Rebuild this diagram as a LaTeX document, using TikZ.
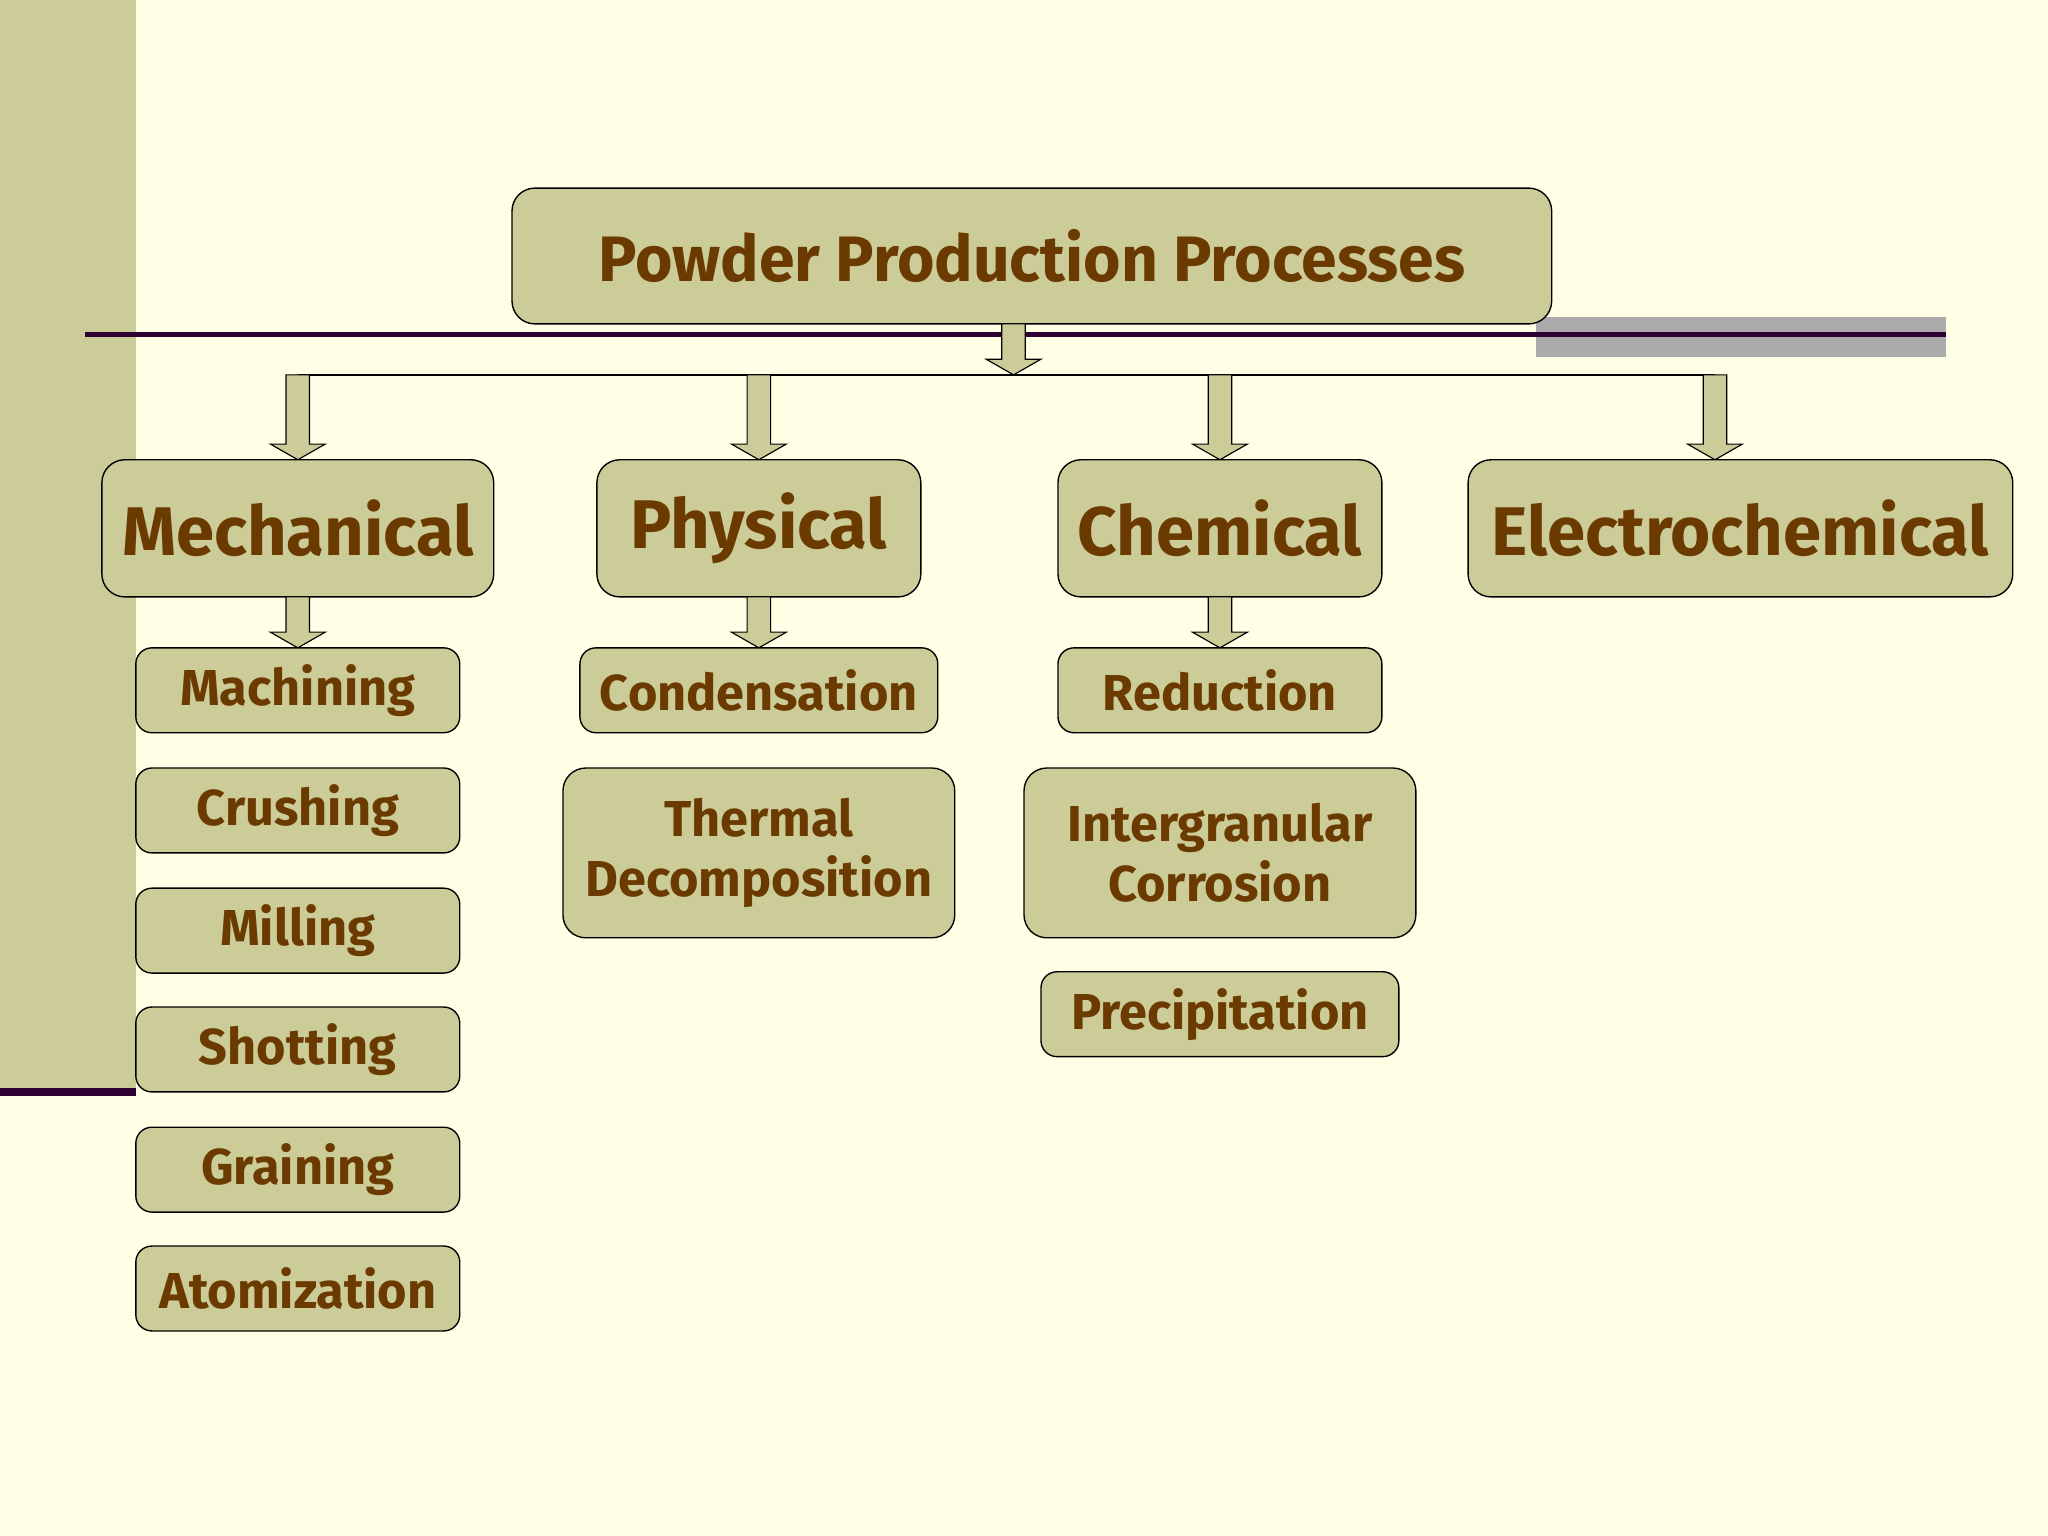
\documentclass[tikz,border=0pt]{standalone}
\usepackage{fontspec}
\setmainfont{Fira Sans}
\begin{document}
\definecolor{bg}{HTML}{FFFFE5}
\definecolor{boxc}{HTML}{CCCC99}
\definecolor{txt}{HTML}{6B3A00}
\definecolor{dk}{HTML}{2E0033}
\begin{tikzpicture}[x=0.02cm,y=-0.02cm,
  bx/.style={draw=black,fill=boxc,rounded corners=10pt,text=txt,font=\bfseries,align=center,inner sep=0pt,line width=0.6pt},
  ar/.style={draw=black,fill=boxc,line width=0.5pt}]
\fill[bg] (0,0) rectangle (1568,1176);
\useasboundingbox (0,0) rectangle (1568,1176);
\fill[boxc] (0,0) rectangle (104,833);
\fill[dk] (0,833) rectangle (104,839);
\fill[black!33] (1176,243) rectangle (1490,273);
\draw[dk,line width=2pt] (65,256) -- (1490,256);
\newcommand{\barr}[3]{\draw[ar] (#1-9,#2) -- (#1+9,#2) -- (#1+9,#3-12) -- (#1+21,#3-12) -- (#1,#3) -- (#1-21,#3-12) -- (#1-9,#3-12) -- cycle;}
\node[bx,minimum width=796*0.02cm,minimum height=104*0.02cm,font=\bfseries\fontsize{28}{32}\selectfont] (top) at (790,196) {Powder Production Processes};
\barr{776}{248}{287}
\draw[line width=0.6pt] (228,287) -- (1313,287);
\barr{228}{287}{352}\barr{581}{287}{352}\barr{934}{287}{352}\barr{1313}{287}{352}
\tikzset{lv/.style={bx,minimum height=105*0.02cm,font=\bfseries\fontsize{30}{34}\selectfont}}
\node[lv,minimum width=300*0.02cm] (mech) at (228,404.5) {Mechanical};
\node[lv,minimum width=248*0.02cm] (phys) at (581,404.5) {Physical};
\node[lv,minimum width=248*0.02cm] (chem) at (934,404.5) {Chemical};
\node[lv,minimum width=417*0.02cm] (elec) at (1332.5,404.5) {Electrochemical};
\barr{228}{457}{496}\barr{581}{457}{496}\barr{934}{457}{496}
\tikzset{sb/.style={bx,minimum height=65*0.02cm,rounded corners=7pt,font=\bfseries\fontsize{22}{26}\selectfont}}
\foreach \t/\y/\n in {Machining/528.5/m1,Crushing/620.5/m2,Milling/712.5/m3,Shotting/803.5/m4,Graining/895.5/m5,Atomization/986.5/m6}
  \node[sb,minimum width=248*0.02cm] (\n) at (228,\y) {\t};
\node[sb,minimum width=274*0.02cm] (p1) at (581,528.5) {Condensation};
\node[sb,minimum width=300*0.02cm,minimum height=130*0.02cm,rounded corners=10pt] (p2) at (581,653) {Thermal\\Decomposition};
\node[sb,minimum width=248*0.02cm] (c1) at (934,528.5) {Reduction};
\node[sb,minimum width=300*0.02cm,minimum height=130*0.02cm,rounded corners=10pt] (c2) at (934,653) {Intergranular\\Corrosion};
\node[sb,minimum width=274*0.02cm] (c3) at (934,776.5) {Precipitation};
\end{tikzpicture}
\end{document}
